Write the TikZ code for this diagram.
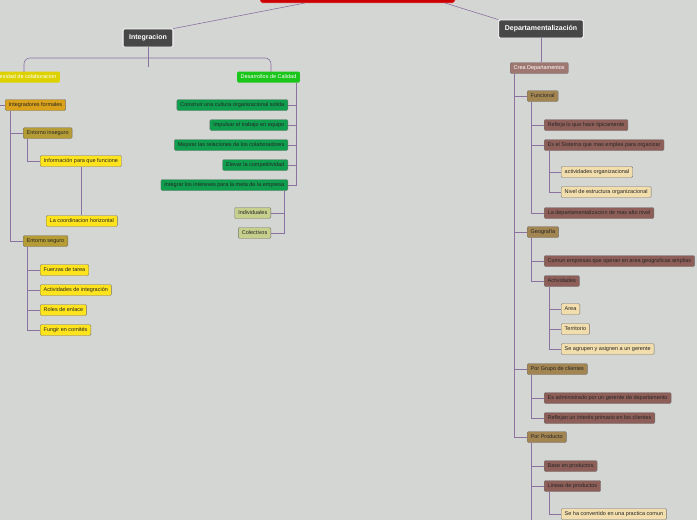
\documentclass[tikz,border=0pt]{standalone}
\usepackage{fontspec}
\setmainfont{Liberation Sans}
\definecolor{bg}{HTML}{D4D6D4}
\definecolor{cgrn}{HTML}{0E9E4E}
\definecolor{cbrn}{HTML}{8E5F58}
\definecolor{ctan}{HTML}{A38552}
\definecolor{colv}{HTML}{B59C34}
\definecolor{corg}{HTML}{D9A21A}
\definecolor{cylw}{HTML}{FFE31C}
\definecolor{clgr}{HTML}{C6CF8C}
\definecolor{cbge}{HTML}{F2DEAD}
\definecolor{cln}{HTML}{8C72A0}
\begin{document}
\begin{tikzpicture}[x=1pt,y=-1pt,
 base/.style={draw=black!55,rounded corners=1.2pt,minimum height=11pt,inner xsep=3.5pt,inner ysep=0pt,font=\fontsize{5.5}{6}\selectfont,anchor=west,text=black!85},
 top/.style={base,fill=black!72,draw=white,line width=0.8pt,text=white,font=\fontsize{7}{8}\selectfont\bfseries,minimum height=18pt,inner xsep=6pt,anchor=center},
 ylw/.style={base,fill=cylw},
 olv/.style={base,fill=colv},
 org/.style={base,fill=corg},
 grn/.style={base,fill=cgrn},
 lgr/.style={base,fill=clgr},
 brn/.style={base,fill=cbrn},
 tan/.style={base,fill=ctan},
 bge/.style={base,fill=cbge},
 ln/.style={draw=cln,line width=0.6pt}]
\fill[bg] (0,0) rectangle (697,520);
\useasboundingbox (0,0) rectangle (697,520);
\fill[red!80!black,rounded corners=2pt,draw=white] (260,-12) rectangle (455,3);
\coordinate (r1) at (305,3); \coordinate (r2) at (445,3);
\node[top] (int) at (148,38) {Integracion};
\node[top] (dep) at (541,29) {Departamentalización};
\draw[ln] (r1) -- (int.north east);
\draw[ln] (r2) -- (dep.north west);
% left
\node[base,fill=yellow!70!olive,text=white,anchor=east,draw=none] (nec) at (60,77) {Necesidad de colaboracion};
\node[base,fill=green!75!black!90!white,text=white,draw=none] (des) at (237,77) {Desarrollos de Calidad};
\draw[ln] (int.south) -- ++(0,20);
\draw[ln,rounded corners=6pt] (24,72) -- (24,58) -- (271,58) -- (271,72);
\node[org] (inf) at (5,105) {Integradores formales};
\draw[ln] (nec.south west) ++(3,0) |- (inf.west);
\node[olv] (ein) at (23,133) {Entorno inseguro};
\node[olv] (ese) at (23,241) {Entorno seguro};
\foreach \c in {ein,ese} \draw[ln] ([xshift=5pt]inf.south west) |- (\c.west);
\node[ylw] (ipf) at (40,161) {Información para que funcione};
\draw[ln] ([xshift=4pt]ein.south west) |- (ipf.west);
\node[ylw] (lch) at (46,221) {La coordinacion horizontal};
\draw[ln] (ipf.south) -- (ipf.south |- lch.north);
\node[ylw] (a1) at (40,270) {Fuerzas de tarea};
\node[ylw] (a2) at (40,290) {Actividades de integración};
\node[ylw] (a3) at (40,310) {Roles de enlace};
\node[ylw] (a4) at (40,330) {Fungir en comités};
\foreach \c in {a1,a2,a3,a4} \draw[ln] ([xshift=4pt]ese.south west) |- (\c.west);
\node[grn,anchor=east] (g1) at (288,105) {Construir una cultura organizacional solida};
\node[grn,anchor=east] (g2) at (288,125) {Impulsar el trabajo en equipo};
\node[grn,anchor=east] (g3) at (288,145) {Mejorar las relaciones de los colaboradores};
\node[grn,anchor=east] (g4) at (288,165) {Elevar la competitividad};
\node[grn,anchor=east] (g5) at (288,185) {Integrar los intereses  para la meta de la empresa};
\foreach \c in {g1,g2,g3,g4,g5} \draw[ln] ([xshift=-4pt]des.south east) |- (\c.east);
\node[lgr,anchor=east] (l1) at (271,213) {Individuales};
\node[lgr,anchor=east] (l2) at (271,233) {Colectivos};
\foreach \c in {l1,l2} \draw[ln] ([xshift=-4pt]g5.south east) |- (\c.east);
% right
\node[base,fill=cbrn!85!white,text=white] (cre) at (510,68) {Crea Departamentos};
\draw[ln] (dep.south) -- (cre.north -| dep.south);
\node[tan] (fun) at (527,96) {Funcional};
\node[tan] (geo) at (527,232) {Geografía};
\node[tan] (pgc) at (527,369) {Por Grupo de clientes};
\node[tan] (ppr) at (527,437) {Por Producto};
\foreach \c in {fun,geo,pgc,ppr} \draw[ln] ([xshift=4pt]cre.south west) |- (\c.west);
\node[brn] (f1) at (544,125) {Refleja lo que hace tipicamente};
\node[brn] (f2) at (544,145) {Es el Sistema que mas emplea para organizar};
\node[brn] (f3) at (544,213) {La departamentalizacion de mas alto nivel};
\foreach \c in {f1,f2,f3} \draw[ln] ([xshift=4pt]fun.south west) |- (\c.west);
\node[bge] (b1) at (561,172) {actividades organizacional};
\node[bge] (b2) at (561,192) {Nivel de estructura organizacional};
\foreach \c in {b1,b2} \draw[ln] ([xshift=5pt]f2.south west) |- (\c.west);
\node[brn] (g6) at (544,261) {Comun empresas que operan en area geograficas amplias};
\node[brn] (g7) at (544,281) {Actividades};
\foreach \c in {g6,g7} \draw[ln] ([xshift=4pt]geo.south west) |- (\c.west);
\node[bge] (b3) at (561,309) {Area};
\node[bge] (b4) at (561,329) {Territorio};
\node[bge] (b5) at (561,349) {Se agrupen y asignen a un gerente};
\foreach \c in {b3,b4,b5} \draw[ln] ([xshift=5pt]g7.south west) |- (\c.west);
\node[brn] (c1) at (544,398) {Es administrado por un gerente de departamento};
\node[brn] (c2) at (544,418) {Reflejan un interés primario  en los clientes};
\foreach \c in {c1,c2} \draw[ln] ([xshift=4pt]pgc.south west) |- (\c.west);
\node[brn] (p1) at (544,466) {Base en productos};
\node[brn] (p2) at (544,486) {Lineas de productos};
\foreach \c in {p1,p2} \draw[ln] ([xshift=4pt]ppr.south west) |- (\c.west);
\draw[ln] ([xshift=4pt]ppr.south west) -- ++(0,90);
\node[bge] (b6) at (561,514) {Se ha convertido en una practica comun};
\draw[ln] ([xshift=5pt]p2.south west) |- (b6.west);
\end{tikzpicture}
\end{document}
